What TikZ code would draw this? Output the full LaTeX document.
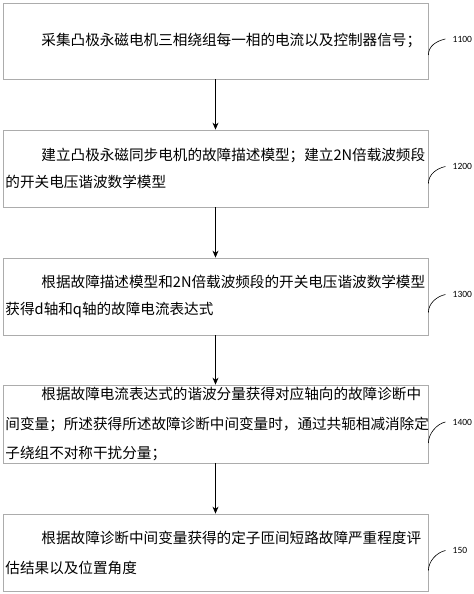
\documentclass[tikz,border=0pt]{standalone}
\usepackage{fontspec}
\newfontfamily\cjk{Noto Sans CJK SC}
\newfontfamily\tagfont{Carlito}
\usetikzlibrary{arrows.meta}

\tikzset{
  stepbox/.style={draw=gray!65, line width=0.8bp, minimum width=425bp,
    text width=420bp, inner xsep=2.5bp, inner ysep=0bp, align=left,
    font=\cjk\fontsize{14.6bp}{27bp}\selectfont},
  tag/.style={line width=0.6bp},
  tagtext/.style={anchor=west, inner sep=0bp, font=\tagfont\fontsize{9.5bp}{12bp}\selectfont}
}
\newcommand{\ind}{\hspace*{36bp}}

\begin{document}
\begin{tikzpicture}[x=1bp, y=1bp, >={Stealth[length=7bp,width=6bp]}]
  \useasboundingbox (0,0) rectangle (474,594);

  % Steps
  \node[stepbox, minimum height=76bp] (s1) at (215.5,553)
    {\ind 采集凸极永磁电机三相绕组每一相的电流以及控制器信号；};
  \node[stepbox, minimum height=77bp] (s2) at (215.5,425.5)
    {\ind 建立凸极永磁同步电机的故障描述模型；建立2N倍载波频段\\
     的开关电压谐波数学模型};
  \node[stepbox, minimum height=77bp] (s3) at (215.5,297.5)
    {\ind 根据故障描述模型和2N倍载波频段的开关电压谐波数学模型\\
     获得d轴和q轴的故障电流表达式};
  \node[stepbox, minimum height=78bp] (s4) at (215.5,170)
    {\ind 根据故障电流表达式的谐波分量获得对应轴向的故障诊断中\\[2.5bp]
     间变量；所述获得所述故障诊断中间变量时，通过共轭相减消除定\\[2.5bp]
     子绕组不对称干扰分量；};
  \node[stepbox, minimum height=77bp] (s5) at (215.5,41.5)
    {\ind 根据故障诊断中间变量获得的定子匝间短路故障严重程度评\\[3bp]
     估结果以及位置角度};

  % Arrows
  \foreach \a/\b in {s1/s2, s2/s3, s3/s4, s4/s5}
    \draw[->, line width=0.8bp] (\a.south) -- (\b.north);

  % Step numbers
  \foreach \n/\t/\d in {s1/1100/14, s2/1200/15, s3/1300/16, s4/1400/19, s5/150/18}
    \draw[tag] ([yshift=-\d bp]\n.east) .. controls +(0,9) and +(-9,-2) .. ++(17,\d+2)
      node[tagtext, xshift=7bp] {\t};

\end{tikzpicture}
\end{document}
